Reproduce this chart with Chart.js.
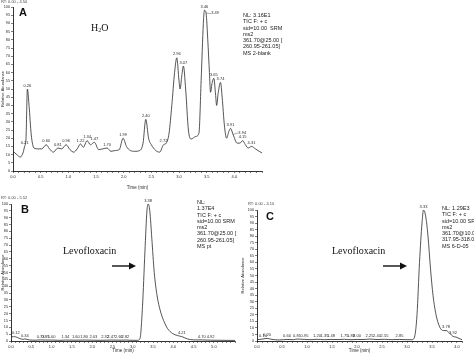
<!DOCTYPE html>
<html>
<head>
<meta charset="utf-8">
<script src="https://cdn.jsdelivr.net/npm/chart.js@4.4.0/dist/chart.umd.min.js"></script>
<style>
  body { margin: 0; background: #fff; width: 474px; height: 353px; position: relative; overflow: hidden; font-family: Arial, "Liberation Sans", sans-serif; }
  .box { position: absolute; }
  .t { position: absolute; white-space: nowrap; color: #222; }
  .info { font-size: 5.5px; line-height: 6.3px; }
  .tiny { font-size: 4px; color: #444; }
  .panel { font-weight: bold; font-size: 11px; color: #111; }
  .serif { font-family: "Liberation Serif", "DejaVu Serif", serif; font-size: 10px; color: #111; }
</style>
</head>
<body>

<div class="box" style="left:0px;top:0px"><canvas id="chartA" width="270" height="190"></canvas></div>
<div class="box" style="left:0px;top:190px"><canvas id="chartB" width="240" height="163"></canvas></div>
<div class="box" style="left:240px;top:190px"><canvas id="chartC" width="234" height="163"></canvas></div>

<!-- panel A notes -->
<div class="t tiny" style="left:1px;top:-1px">RT: 0.00 - 4.50</div>
<div class="t panel" style="left:19px;top:6px">A</div>
<div class="t serif" style="left:91px;top:22px">H<span style="font-size:6px;vertical-align:-1px">2</span>O</div>
<div class="t info" style="left:243px;top:12px">NL: 3.16E1<br>TIC F: + c<br>sid=10.00&nbsp; SRM<br>ms2<br>361.70@25.00 [<br>260.95-261.05]<br>MS 2-blank</div>

<!-- panel B notes -->
<div class="t tiny" style="left:1px;top:195px">RT: 0.00 - 5.52</div>
<div class="t panel" style="left:21px;top:203px">B</div>
<div class="t serif" style="left:63px;top:245px">Levofloxacin</div>
<svg class="t" style="left:110px;top:261px" width="28" height="10"><line x1="2" y1="5" x2="20" y2="5" stroke="#111" stroke-width="1.4"/><polygon points="19,1.5 26,5 19,8.5" fill="#111"/></svg>
<div class="t info" style="left:197px;top:199px">NL:<br>1.37E4<br>TIC F: + c<br>sid=10.00 SRM<br>ms2<br>361.70@25.00 [<br>260.95-261.05]<br>MS pt</div>

<!-- panel C notes -->
<div class="t tiny" style="left:248px;top:201px">RT: 0.00 - 4.10</div>
<div class="t panel" style="left:266px;top:210px">C</div>
<div class="t serif" style="left:332px;top:245px">Levofloxacin</div>
<svg class="t" style="left:381px;top:261px" width="28" height="10"><line x1="2" y1="5" x2="20" y2="5" stroke="#111" stroke-width="1.4"/><polygon points="19,1.5 26,5 19,8.5" fill="#111"/></svg>
<div class="t info" style="left:442px;top:205px">NL: 1.29E3<br>TIC F: + c<br>sid=10.00 SRM<br>ms2<br>361.70@10.00 [<br>317.95-318.05]<br>MS 6-D-05</div>

<script>
// ---- data ----
const timeA = [0.00, 0.07, 0.13, 0.18, 0.21, 0.235, 0.26, 0.29, 0.33, 0.38, 0.45, 0.52, 0.60, 0.66, 0.73, 0.81, 0.88, 0.96,
  1.03, 1.10, 1.16, 1.22, 1.27, 1.34, 1.40, 1.47, 1.55, 1.62, 1.70, 1.77, 1.85, 1.92, 1.99, 2.05, 2.12, 2.20, 2.29, 2.35,
  2.40, 2.45, 2.50, 2.58, 2.65, 2.72, 2.77, 2.82, 2.87, 2.92, 2.96, 3.00, 3.02, 3.05, 3.08, 3.12, 3.17, 3.22, 3.30, 3.36,
  3.40, 3.44, 3.46, 3.49, 3.52, 3.55, 3.57, 3.60, 3.63, 3.66, 3.68, 3.71, 3.75, 3.78, 3.82, 3.86, 3.90, 3.93, 3.98, 4.05,
  4.10, 4.15, 4.20, 4.25, 4.31, 4.38, 4.45, 4.50];
const abundA = [12, 10, 8.5, 11, 15, 20, 50, 40, 22, 14, 13.5, 13.5, 16, 13.5, 11.5, 14, 13.5, 16,
  13, 11.5, 13.5, 16.5, 14.5, 18.5, 16, 17.5, 13, 13.5, 14, 12, 12.5, 13, 20, 15, 12.5, 12, 12.5, 17,
  31.5, 20, 16, 12.5, 11.5, 16, 17, 23, 40, 60, 69, 55, 50, 58, 64, 50, 25, 19.5, 21, 23,
  55, 90, 98, 96, 80, 60, 48, 54, 56.5, 47, 40, 48, 54, 45, 28, 20, 24, 26, 22, 17,
  17, 18.5, 16, 14, 15, 13.5, 12, 11];
const peakTimesA = [0.21, 0.26, 0.60, 0.81, 0.96, 1.22, 1.34, 1.47, 1.70, 1.99, 2.40, 2.72, 2.96, 3.08, 3.46, 3.49, 3.63, 3.75, 3.93, 3.98, 4.15, 4.31];
const peakTextA  = ['0.21', '0.26', '0.60', '0.81', '0.96', '1.22', '1.34', '1.47', '1.70', '1.99', '2.40', '2.72', '2.96', '3.07', '3.46', '3.49', '3.65', '3.74', '3.91', '3.94', '4.15', '4.31'];

const timeB = [0.00, 0.06, 0.12, 0.20, 0.30, 0.34, 0.45, 0.60, 0.73, 0.85, 1.00, 1.20, 1.34, 1.60, 1.80, 2.03, 2.20, 2.32,
  2.47, 2.66, 2.82, 3.00, 3.12, 3.18, 3.24, 3.30, 3.35, 3.38, 3.42, 3.47, 3.53, 3.60, 3.68, 3.76, 3.86, 3.98, 4.10, 4.21,
  4.35, 4.50, 4.70, 4.92, 5.20, 5.52];
const abundB = [3, 3.2, 3, 2, 1.2, 1.5, 0.8, 0.6, 0.8, 0.7, 0.7, 0.5, 0.7, 0.6, 0.7, 0.6, 0.5, 0.6,
  0.7, 0.6, 0.7, 0.5, 0.5, 2, 25, 65, 95, 100, 95, 75, 50, 33, 22, 15, 9, 5.5, 4, 3.2,
  1.5, 0.8, 0.8, 0.6, 0.5, 0.4];
const peakTimesB = [0.12, 0.34, 0.73, 0.85, 1.00, 1.34, 1.60, 1.80, 2.03, 2.32, 2.47, 2.66, 2.82, 3.38, 4.21, 4.70, 4.92];
const peakTextB  = ['0.12', '0.34', '0.73', '0.85', '1.00', '1.34', '1.60', '1.80', '2.03', '2.32', '2.47', '2.66', '2.82', '3.38', '4.21', '4.70', '4.92'];

const timeC = [0.00, 0.12, 0.20, 0.30, 0.45, 0.60, 0.73, 0.80, 0.95, 1.08, 1.20, 1.35, 1.48, 1.62, 1.75, 1.88, 2.00, 2.12,
  2.25, 2.40, 2.55, 2.70, 2.85, 3.00, 3.10, 3.15, 3.20, 3.25, 3.30, 3.33, 3.37, 3.42, 3.47, 3.52, 3.57, 3.63, 3.68, 3.73,
  3.78, 3.85, 3.92, 3.98, 4.04, 4.10];
const abundC = [1, 1.5, 2, 1.2, 0.8, 1.2, 1, 1.5, 1.2, 1, 1.3, 1, 1.2, 1.1, 1.3, 1, 1.2, 1.1,
  1.5, 1.1, 1.3, 1, 1.2, 1, 1, 3, 20, 60, 90, 100, 96, 80, 55, 35, 22, 13, 9, 8,
  8, 6, 3.5, 3, 2, 1];
const peakTimesC = [0.12, 0.20, 0.60, 0.80, 0.95, 1.20, 1.35, 1.48, 1.75, 1.88, 2.00, 2.25, 2.40, 2.55, 2.85, 3.33, 3.78, 3.92];
const peakTextC  = ['0.14', '0.20', '0.60', '0.81', '0.95', '1.20', '1.35', '1.48', '1.75', '1.88', '2.00', '2.25', '2.40', '2.55', '2.85', '3.33', '3.78', '3.92'];

// ---- drawing ----
const ink = '#2a2a2a';

// small apex labels, value looked up in the trace
const peakLabels = {
  id: 'peakLabels',
  afterDatasetsDraw(chart, args, opts) {
    const { ctx, scales: { x, y } } = chart;
    ctx.save();
    ctx.font = '4px Arial';
    ctx.fillStyle = ink;
    ctx.strokeStyle = ink;
    ctx.lineWidth = 0.4;
    ctx.textAlign = 'center';
    ctx.textBaseline = 'bottom';
    opts.times.forEach((t, i) => {
      let k = 0;
      opts.xs.forEach((v, j) => { if (Math.abs(v - t) < Math.abs(opts.xs[k] - t)) k = j; });
      const px = x.getPixelForValue(t);
      const py = y.getPixelForValue(opts.ys[k]) - 1.5;
      const nudge = (opts.nudge || {})[opts.texts[i]];
      if (nudge) {
        ctx.beginPath();
        ctx.moveTo(px, py + 1);
        ctx.lineTo(px + nudge[0] - 4, py + nudge[1] - 1.5);
        ctx.stroke();
        ctx.fillText(opts.texts[i], px + nudge[0], py + nudge[1]);
      } else {
        ctx.fillText(opts.texts[i], px, py);
      }
    });
    ctx.restore();
  }
};

function makeChart(id, xs, ys, cfg) {
  const ctx = document.getElementById(id).getContext('2d');
  return new Chart(ctx, {
    type: 'line',
    data: {
      datasets: [{
        data: xs.map((t, i) => ({ x: t, y: ys[i] })),
        borderColor: ink,
        borderWidth: 0.8,
        pointRadius: 0,
        fill: false,
        cubicInterpolationMode: 'monotone'
      }]
    },
    options: {
      responsive: false,
      devicePixelRatio: 1,
      animation: false,
      layout: { padding: { top: cfg.padTop, right: cfg.padRight, left: 0, bottom: 0 } },
      plugins: {
        legend: { display: false },
        tooltip: { enabled: false },
        peakLabels: { times: cfg.peakTimes, texts: cfg.peakText, xs, ys, nudge: cfg.nudge }
      },
      scales: {
        x: {
          type: 'linear',
          min: 0,
          max: cfg.xMax,
          afterFit: s => { s.height = cfg.xHeight; },
          border: { display: true, color: '#000', width: 0.8 },
          grid: { drawOnChartArea: false, drawTicks: true, tickLength: 2, color: '#000', lineWidth: 0.5 },
          ticks: {
            stepSize: 0.1,
            autoSkip: false,
            maxRotation: 0,
            padding: 1,
            color: ink,
            font: { size: 4 },
            callback: v => (Math.abs(v * 2 - Math.round(v * 2)) < 1e-6 && v < cfg.xMax - 0.05) ? v.toFixed(1) : ''
          },
          title: { display: true, text: 'Time (min)', color: ink, font: { size: 4.5 }, padding: { top: 1, bottom: 0 } }
        },
        y: {
          min: 0,
          max: 100,
          afterFit: s => { s.width = cfg.yWidth; },
          border: { display: true, color: '#000', width: 0.8 },
          grid: { drawOnChartArea: false, drawTicks: true, tickLength: 2, color: '#000', lineWidth: 0.5 },
          ticks: { stepSize: 5, autoSkip: false, padding: 1, color: ink, font: { size: 3.8 } },
          title: { display: true, text: 'Relative Abundance', color: ink, font: { size: 4 }, padding: 0 }
        }
      }
    },
    plugins: [peakLabels]
  });
}

makeChart('chartA', timeA, abundA, {
  xMax: 4.5, padTop: 7, padRight: 8, yWidth: 13, xHeight: 19,
  peakTimes: peakTimesA, peakText: peakTextA,
  nudge: { '3.49': [9, 3], '3.94': [9, 1] }
});
makeChart('chartB', timeB, abundB, {
  xMax: 5.52, padTop: 14, padRight: 5, yWidth: 11, xHeight: 12,
  peakTimes: peakTimesB, peakText: peakTextB
});
makeChart('chartC', timeC, abundC, {
  xMax: 4.1, padTop: 20, padRight: 12, yWidth: 17, xHeight: 12,
  peakTimes: peakTimesC, peakText: peakTextC
});
</script>
</body>
</html>
